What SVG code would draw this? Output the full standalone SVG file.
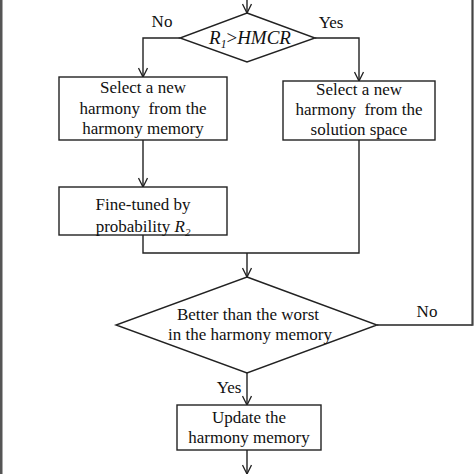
<svg xmlns="http://www.w3.org/2000/svg" width="474" height="474" viewBox="0 0 474 474">
<style>
.shape{fill:#fff;stroke:#222;stroke-width:1.4}
.ln{fill:none;stroke:#222;stroke-width:1.4}
text{font-family:"Liberation Serif","Times New Roman",serif;font-size:17px;fill:#111;text-anchor:middle}
.it{font-style:italic}
</style>
<defs>
<marker id="arr" markerWidth="12" markerHeight="10" refX="10" refY="5" orient="auto" markerUnits="userSpaceOnUse">
<path d="M1,0.5 L10,5 L1,9.5" fill="none" stroke="#222" stroke-width="1.3"/>
</marker>
</defs>
<rect x="0" y="0" width="474" height="474" fill="#fff"/>
<rect x="0" y="0" width="2.5" height="474" fill="#555"/>
<g id="connectors">
<path class="ln" d="M247,0 V13" marker-end="url(#arr)"/>
<path class="ln" d="M180,38 H143 V77" marker-end="url(#arr)"/>
<path class="ln" d="M315,38 H359 V81" marker-end="url(#arr)"/>
<path class="ln" d="M143,140 V187" marker-end="url(#arr)"/>
<path class="ln" d="M143,235 V253 H359 V140"/>
<path class="ln" d="M247,253 V277" marker-end="url(#arr)"/>
<path class="ln" d="M377,325 H472.5"/>
<path fill="none" stroke="#444" stroke-width="2.2" d="M472.5,325.7 V0"/>
<path class="ln" d="M247,373 V405" marker-end="url(#arr)"/>
<path class="ln" d="M247,450 V474" marker-end="url(#arr)"/>
<text x="162" y="27">No</text>
<text x="331" y="28">Yes</text>
<text x="427" y="317">No</text>
<text x="229" y="393">Yes</text>
</g>
<g id="d1">
<polygon class="shape" points="247,13 315,38 247,62 180,38"/>
<text x="250" y="44" style="font-size:19px"><tspan class="it">R</tspan><tspan class="it" style="font-size:11.5px" dy="4">1</tspan><tspan dy="-4">&gt;</tspan><tspan class="it">HMCR</tspan></text>
</g>
<g id="b1">
<rect class="shape" x="59" y="77" width="168" height="63"/>
<text x="143" y="93">Select a new</text>
<text x="143" y="114">harmony&#160; from the</text>
<text x="143" y="134">harmony memory</text>
</g>
<g id="b2">
<rect class="shape" x="283" y="81" width="152" height="59"/>
<text x="359" y="95">Select a new</text>
<text x="359" y="115">harmony&#160; from the</text>
<text x="359" y="135">solution space</text>
</g>
<g id="b3">
<rect class="shape" x="59" y="187" width="168" height="48"/>
<text x="143" y="210">Fine-tuned by</text>
<text x="143" y="232">probability <tspan class="it">R</tspan><tspan class="it" style="font-size:11px" dy="4">2</tspan></text>
</g>
<g id="d2">
<polygon class="shape" points="247,277 377,325 247,373 116,325"/>
<text x="248" y="320">Better than the worst</text>
<text x="250" y="340">in the harmony memory</text>
</g>
<g id="b4">
<rect class="shape" x="177" y="405" width="144" height="45"/>
<text x="249" y="423">Update the</text>
<text x="249" y="443">harmony memory</text>
</g>
</svg>
